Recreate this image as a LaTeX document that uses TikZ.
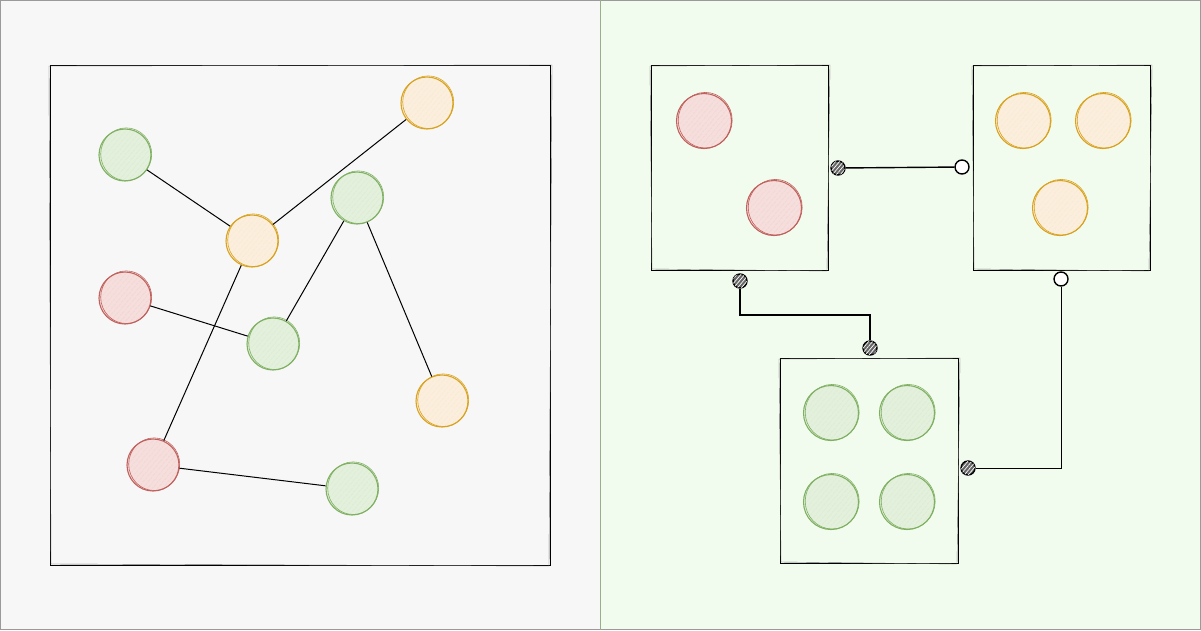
\documentclass[tikz,border=0pt]{standalone}
\usetikzlibrary{patterns.meta}
\definecolor{leftbg}{HTML}{F7F7F7}
\definecolor{rightbg}{HTML}{F2FCEE}
\definecolor{divline}{HTML}{9AAE8C}
\definecolor{outline}{HTML}{9A9A9A}
\definecolor{gstroke}{HTML}{7FB062}
\definecolor{gfill}{HTML}{E3F0DC}
\definecolor{ystroke}{HTML}{D9A21E}
\definecolor{yfill}{HTML}{FBEEDC}
\definecolor{rstroke}{HTML}{C0605C}
\definecolor{rfill}{HTML}{F5DEDC}
\tikzset{
  ball/.style={circle, minimum size=52pt, inner sep=0pt, line width=1.1pt},
  gball/.style={ball, draw=gstroke, fill=gfill, postaction={pattern={Lines[angle=50,distance=4pt,line width=0.4pt]}, pattern color=gstroke!45}},
  yball/.style={ball, draw=ystroke, fill=yfill, postaction={pattern={Lines[angle=50,distance=4pt,line width=0.4pt]}, pattern color=ystroke!40}},
  rball/.style={ball, draw=rstroke, fill=rfill, postaction={pattern={Lines[angle=50,distance=4pt,line width=0.4pt]}, pattern color=rstroke!45}},
  ring/.style={line width=0.6pt},
  link/.style={draw=black, line width=1pt},
  boxline/.style={draw=black, line width=0.8pt},
  portfull/.style={circle, minimum size=14pt, inner sep=0pt, draw=black, line width=1.4pt, fill=black!60, postaction={pattern={Lines[angle=50,distance=3pt,line width=0.7pt]}, pattern color=white}},
  portopen/.style={circle, minimum size=14pt, inner sep=0pt, draw=black, line width=1.4pt, fill=white},
}
\newcommand{\skrect}[4]{%
  \draw[boxline] (#1,#2) rectangle (#3,#4);
  \draw[draw=black!60, line width=0.4pt] (#1-1,#2+1) -- (#3+2,#2) -- (#3-1,#4+1) -- (#1+1,#4-1) -- cycle;
}
% \sball{style}{colour}{name}{x}{y}{diameter}
\newcommand{\sball}[6]{%
  \node[#1, minimum size=#6pt] (#3) at (#4,#5) {};
  \draw[#2, ring] (#4+1.2,#5-0.8) ellipse ({#6/2-0.5} and {#6/2+0.3});
}
\begin{document}
\begin{tikzpicture}[x=1pt,y=-1pt]
\useasboundingbox (0,0) rectangle (1201,630);
% panels
\fill[leftbg] (0,0) rectangle (600,630);
\fill[rightbg] (600,0) rectangle (1201,630);
\draw[outline, line width=1pt] (0.5,0.5) rectangle (1200.5,629.5);
\draw[divline, line width=1pt] (600.5,0) -- (600.5,630);

% ---------- left panel ----------
\skrect{50}{65}{550}{565}
\sball{gball}{gstroke}{A}{125}{155}{52}
\sball{yball}{ystroke}{B}{427}{103}{52}
\sball{yball}{ystroke}{C}{252}{241}{52}
\sball{gball}{gstroke}{D}{357}{198}{52}
\sball{rball}{rstroke}{E}{125}{298}{52}
\sball{gball}{gstroke}{F}{273}{344}{52}
\sball{yball}{ystroke}{G}{442}{401}{52}
\sball{rball}{rstroke}{H}{153}{465}{52}
\sball{gball}{gstroke}{I}{352}{489}{52}
\draw[link] (A) -- (C);
\draw[link] (C) -- (B);
\draw[link] (C) -- (H);
\draw[link] (D) -- (F);
\draw[link] (D) -- (G);
\draw[link] (E) -- (F);
\draw[link] (H) -- (I);

% ---------- right panel ----------
\skrect{651}{65}{828}{270}
\skrect{973}{65}{1150}{270}
\skrect{780}{358}{958}{563}
\sball{rball}{rstroke}{R1}{704}{121}{55}
\sball{rball}{rstroke}{R2}{774}{208}{55}
\sball{yball}{ystroke}{Y1}{1023}{121}{55}
\sball{yball}{ystroke}{Y2}{1103}{121}{55}
\sball{yball}{ystroke}{Y3}{1060}{208}{55}
\sball{gball}{gstroke}{G1}{831}{413}{55}
\sball{gball}{gstroke}{G2}{907}{413}{55}
\sball{gball}{gstroke}{G3}{831}{502}{55}
\sball{gball}{gstroke}{G4}{907}{502}{55}

% ports
\node[portfull] (p1) at (838,168) {};
\node[portopen] (p2) at (962,167) {};
\node[portfull] (p3) at (740,281) {};
\node[portfull] (p4) at (870,348) {};
\node[portopen] (p5) at (1061,279) {};
\node[portfull] (p6) at (968,468) {};

\draw[link, line width=1.4pt] (p1) -- (p2);
\draw[link, line width=1.4pt] (p3.south) -- (740,315) -| (p4.north);
\draw[link] (p5.south) |- (p6.east);
\end{tikzpicture}
\end{document}
